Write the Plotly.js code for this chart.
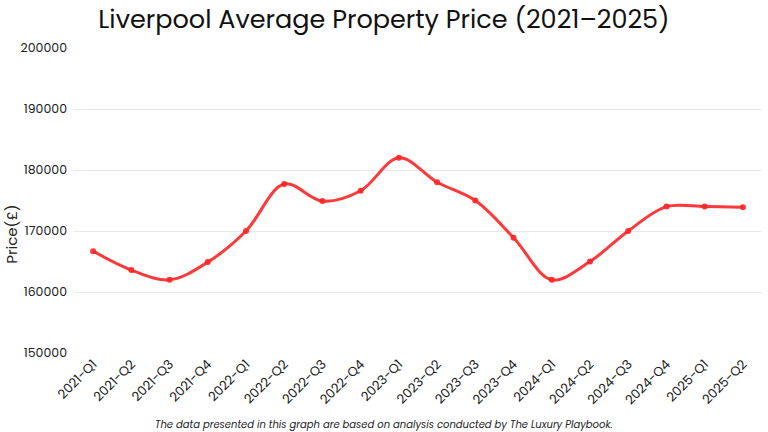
<!DOCTYPE html>
<html>
<head>
<meta charset="utf-8">
<script src="https://cdn.plot.ly/plotly-3.0.1.min.js"></script>
<style>html,body{margin:0;padding:0;background:#fff;}#chart{width:768px;height:432px;}</style>
</head>
<body>
<div id="chart"></div>
<script>
const quarters = ["2021-Q1","2021-Q2","2021-Q3","2021-Q4","2022-Q1","2022-Q2","2022-Q3","2022-Q4","2023-Q1","2023-Q2","2023-Q3","2023-Q4","2024-Q1","2024-Q2","2024-Q3","2024-Q4","2025-Q1","2025-Q2"];
const prices = [166700,163600,162000,164900,170000,177700,174900,176600,182000,178000,175000,168900,162000,165000,170000,174000,174000,173900];
const yTicks = [150000,160000,170000,180000,190000,200000];

const font = "Poppins, 'Open Sans', Lato, sans-serif";

Plotly.newPlot("chart", [{
  x: quarters, y: prices, type: "scatter", mode: "lines+markers",
  line: {color: "rgba(255,40,40,0.92)", width: 3, shape: "spline", smoothing: 1},
  marker: {color: "rgba(255,40,40,0.92)", size: 6},
  hoverinfo: "x+y"
}], {
  width: 768, height: 432,
  margin: {l: 74, r: 6, t: 48, b: 79},
  paper_bgcolor: "#fff", plot_bgcolor: "#fff",
  title: {text: "Liverpool Average Property Price (2021–2025)", x: 0.5, xanchor: "center", y: 0.955, yanchor: "middle",
          font: {family: font, size: 25.5, color: "#111"}},
  xaxis: {type: "category", range: [-0.5, quarters.length - 0.5], tickangle: -45, showgrid: false, zeroline: false, showline: false, automargin: false,
          tickfont: {family: font, size: 13, color: "#222"}, ticks: ""},
  yaxis: {range: [150000, 200000], tickvals: yTicks, ticktext: yTicks.map(String), showgrid: true, gridcolor: "#e8e8e8",
          zeroline: false, showline: false, ticks: "", ticklen: 0, automargin: false, ticklabelstandoff: 6,
          tickfont: {family: font, size: 12.5, color: "#222"}},
  showlegend: false,
  annotations: [{
    text: "Price(£)", textangle: -90,
    xref: "paper", yref: "paper", x: -0.092, y: 0.39, xanchor: "center", yanchor: "middle", showarrow: false,
    font: {family: font, size: 15, color: "#222"}
  }, {
    text: "<i>The data presented in this graph are based on analysis conducted by The Luxury Playbook.</i>",
    xref: "paper", yref: "paper", x: 0.45, y: -0.233, xanchor: "center", yanchor: "middle", showarrow: false,
    font: {family: font, size: 10, color: "#222"}
  }]
}, {displayModeBar: false});
</script>
</body>
</html>
